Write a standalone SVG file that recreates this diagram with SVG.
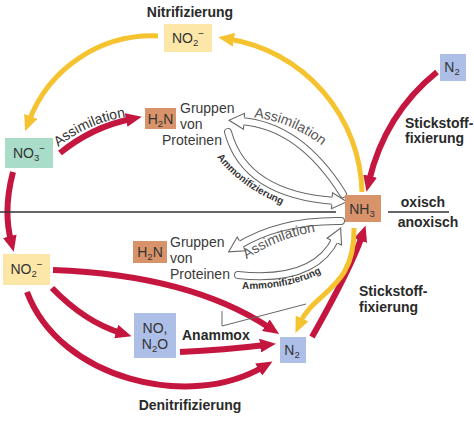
<svg xmlns="http://www.w3.org/2000/svg" width="474" height="423" viewBox="0 0 474 423">
<style>
text{font-family:"Liberation Sans",Arial,sans-serif}
.nt{font-size:14px;fill:#333;text-anchor:middle}
.sub{font-size:9.5px}
.sup{font-size:10px}
.lbl{font-size:14px;fill:#3a3a3a}
.b{font-weight:bold;font-size:14px;fill:#2a2a2a}
.sm{font-weight:bold;font-size:10px;fill:#333}
.red{fill:none;stroke:#c4163e;stroke-width:6;marker-end:url(#mr)}
.yel{fill:none;stroke:#f6c330;stroke-width:5;marker-end:url(#my)}
.ho{fill:none;stroke:#666;stroke-width:8;stroke-linecap:round}
.hi{fill:none;stroke:#fff;stroke-width:6;stroke-linecap:round;marker-end:url(#mh)}
.yb{fill:#fde7a8}.tb{fill:#a9dcc9}.ob{fill:#d9936a}.bb{fill:#adbfe7}
</style>
<defs>
<marker id="mr" viewBox="0 0 16 14" refX="5" refY="7" markerWidth="16" markerHeight="14" markerUnits="userSpaceOnUse" orient="auto"><path d="M0,0L16,7L0,14Z" fill="#c4163e"/></marker>
<marker id="my" viewBox="0 0 16 14" refX="5" refY="7" markerWidth="16" markerHeight="14" markerUnits="userSpaceOnUse" orient="auto"><path d="M0,0L16,7L0,14Z" fill="#f6c330"/></marker>
<marker id="mh" viewBox="0 0 17 18" refX="5" refY="9" markerWidth="17" markerHeight="18" markerUnits="userSpaceOnUse" orient="auto"><path d="M1,5L1,1L16,9L1,17L1,13" fill="#fff" stroke="#666" stroke-width="1.1"/></marker>
<path id="tpA1" d="M 55 150 Q 85 123 130 116"/>
<path id="tpA2" d="M 249 117 Q 291 120 326 149"/>
<path id="tpM1" d="M 213 152 Q 238 188 288 207"/>
<path id="tpA3" d="M 243 262 Q 275 238 320 231"/>
<path id="tpM2" d="M 240 289 Q 290 290 323 272"/>
</defs>
<rect width="474" height="423" fill="#fff"/>

<g id="connectors">
<path class="yel" d="M 362 192 A 159 159 0 0 0 229 39"/>
<path class="yel" d="M 158 36 A 132 132 0 0 0 29 121"/>
<path class="red" d="M 60 153 Q 92 127 131 119"/>
<path class="red" d="M 13 172 Q 3 210 11 241"/>
<path class="red" d="M 437 72 Q 385 114 369 181"/>
<path class="red" d="M 53 270 Q 190 275 270 328"/>
<path class="red" d="M 52 288 Q 85 322 121 333"/>
<path class="red" d="M 180 352 Q 225 350 265 345"/>
<path class="red" d="M 27 292 C 60 380 190 410 263 367"/>
<path class="red" d="M 312 337 Q 351 268 362 236"/>
<path class="yel" d="M 354 228 C 355 290 315 290 300 323"/>
<path class="ho" d="M 343 194 Q 300 125 240 121"/>
<path class="hi" d="M 343 194 Q 300 125 240 121"/>
<path class="ho" d="M 228 132 Q 245 195 336 201"/>
<path class="hi" d="M 228 132 Q 245 195 336 201"/>
<path class="ho" d="M 341 221 Q 280 220 238 246"/>
<path class="hi" d="M 341 221 Q 280 220 238 246"/>
<path class="ho" d="M 238 275 Q 315 283 336 238"/>
<path class="hi" d="M 238 275 Q 315 283 336 238"/>
<polyline points="222,311 222,326 306,304" fill="none" stroke="#666" stroke-width="1"/>
<line x1="0" y1="212" x2="336" y2="212" stroke="#333" stroke-width="1.5"/>
<line x1="388" y1="212" x2="449" y2="212" stroke="#333" stroke-width="1.5"/>
</g>

<g id="labels">
<text class="b" x="190" y="17" text-anchor="middle">Nitrifizierung</text>
<text class="b" x="190" y="410" text-anchor="middle">Denitrifizierung</text>
<text class="b" x="405" y="128">Stickstoff-</text>
<text class="b" x="405" y="143">fixierung</text>
<text class="b" x="359" y="296">Stickstoff-</text>
<text class="b" x="359" y="312">fixierung</text>
<text class="b" x="182" y="340">Anammox</text>
<text class="b" x="423" y="207" text-anchor="middle">oxisch</text>
<text class="b" x="428" y="227" text-anchor="middle">anoxisch</text>
<text class="lbl" style="fill:#333"><textPath href="#tpA1" startOffset="50%" text-anchor="middle">Assimilation</textPath></text>
<text class="lbl" style="fill:#555"><textPath href="#tpA2" startOffset="50%" text-anchor="middle">Assimilation</textPath></text>
<text class="sm"><textPath href="#tpM1" startOffset="50%" text-anchor="middle">Ammonifizierung</textPath></text>
<text class="lbl" style="fill:#555"><textPath href="#tpA3" startOffset="50%" text-anchor="middle">Assimilation</textPath></text>
<text class="sm"><textPath href="#tpM2" startOffset="50%" text-anchor="middle">Ammonifizierung</textPath></text>
</g>

<g id="no2-top">
<rect class="yb" x="164" y="24" width="48" height="28"/>
<text class="nt" x="188" y="43">NO<tspan class="sub" dy="3">2</tspan><tspan class="sup" dy="-9">−</tspan></text>
</g>
<g id="no3">
<rect class="tb" x="5" y="138" width="48" height="30"/>
<text class="nt" x="29" y="158">NO<tspan class="sub" dy="3">3</tspan><tspan class="sup" dy="-9">−</tspan></text>
</g>
<g id="h2n-top">
<rect class="ob" x="145" y="108" width="31" height="21"/>
<text class="nt" x="160.5" y="124">H<tspan class="sub" dy="3">2</tspan><tspan dy="-3">N</tspan></text>
<text class="lbl" x="180" y="113">Gruppen</text>
<text class="lbl" x="180" y="129">von</text>
<text class="lbl" x="162" y="145">Proteinen</text>
</g>
<g id="nh3">
<rect class="ob" x="345" y="195" width="36" height="27"/>
<text class="nt" x="362" y="214">NH<tspan class="sub" dy="3">3</tspan></text>
</g>
<g id="n2-top">
<rect class="bb" x="440" y="54" width="26" height="27"/>
<text class="nt" x="452" y="72">N<tspan class="sub" dy="3">2</tspan></text>
</g>
<g id="no2-bottom">
<rect class="yb" x="3" y="254" width="47" height="31"/>
<text class="nt" x="26.5" y="274">NO<tspan class="sub" dy="3">2</tspan><tspan class="sup" dy="-9">−</tspan></text>
</g>
<g id="h2n-bottom">
<rect class="ob" x="133" y="241" width="34" height="22"/>
<text class="nt" x="150" y="257">H<tspan class="sub" dy="3">2</tspan><tspan dy="-3">N</tspan></text>
<text class="lbl" x="170" y="247">Gruppen</text>
<text class="lbl" x="170" y="263">von</text>
<text class="lbl" x="170" y="279">Proteinen</text>
</g>
<g id="no-n2o">
<rect class="bb" x="134" y="313" width="42" height="45"/>
<text class="nt" x="155" y="333">NO,</text>
<text class="nt" x="155" y="349">N<tspan class="sub" dy="3">2</tspan><tspan dy="-3">O</tspan></text>
</g>
<g id="n2-bottom">
<rect class="bb" x="280" y="337" width="26" height="26"/>
<text class="nt" x="292" y="355">N<tspan class="sub" dy="3">2</tspan></text>
</g>
</svg>
